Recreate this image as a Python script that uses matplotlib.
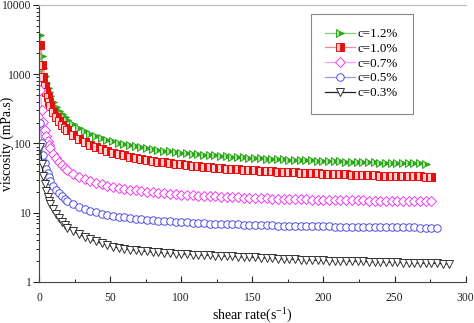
import matplotlib
matplotlib.use("Agg")
import matplotlib.pyplot as plt
from matplotlib.ticker import FixedLocator, LogLocator, NullFormatter, FixedFormatter, MultipleLocator

plt.rcParams['font.family'] = ['Liberation Serif', 'DejaVu Serif']

shear_rate = [1, 2, 3, 4, 5, 6, 7, 8, 10, 12, 14, 16, 18,
              20, 24, 28, 32, 36, 40, 44, 48, 52, 56, 60, 64, 68, 72, 76, 80,
              84, 88, 92, 96, 100, 104, 108, 112, 116, 120, 124, 128, 132, 136,
              140, 144, 148, 152, 156, 160, 164, 168, 172, 176, 180, 184, 188,
              192, 196, 200, 204, 208, 212, 216, 220, 224, 228, 232, 236, 240,
              244, 248, 252, 256, 260, 264, 268, 272, 276, 280, 284, 288]

visc_12 = [3630, 1833, 1235, 936, 756, 636, 551, 487, 397, 337, 294, 262, 237,
           217.5, 187.6, 166.2, 150.2, 137.7, 127.8, 119.6, 112.8, 107.0, 102.1,
           97.8, 94.1, 90.8, 87.9, 85.2, 82.9, 80.7, 78.8, 77.0, 75.4, 73.9, 72.5,
           71.2, 70.1, 68.9, 67.9, 67.0, 66.0, 65.2, 64.4, 63.6, 62.9, 62.3, 61.6,
           61.0, 60.4, 59.9, 59.4, 58.9, 58.4, 57.9, 57.5, 57.1, 56.7, 56.3, 56.0,
           55.6, 55.3, 54.9, 54.6, 54.3, 54.0, 53.7, 53.5, 53.2, 53.0, 52.7, 52.5,
           52.2, 52.0, 51.8, 51.6, 51.4, 51.2]

visc_10 = [2640, 1333, 897, 678, 547, 460, 398, 351, 285.5, 241.8, 210.6, 187.3,
           169.1, 154.5, 132.7, 117.1, 105.4, 96.3, 89.0, 83.0, 78.1, 73.9, 70.3,
           67.2, 64.4, 62.0, 59.9, 58.0, 56.3, 54.7, 53.3, 52.0, 50.8, 49.7, 48.7,
           47.8, 46.9, 46.1, 45.3, 44.6, 44.0, 43.3, 42.8, 42.2, 41.7, 41.2, 40.7,
           40.3, 39.9, 39.5, 39.1, 38.7, 38.4, 38.1, 37.7, 37.4, 37.1, 36.9, 36.6,
           36.3, 36.1, 35.9, 35.6, 35.4, 35.2, 35.0, 34.8, 34.6, 34.4, 34.2, 34.1,
           33.9, 33.7, 33.6, 33.4, 33.3, 33.1, 33.0]

visc_07 = [590, 301.5, 205.2, 157, 128.1, 108.8, 95.1, 84.75, 70.3, 60.7, 53.8,
           48.6, 44.6, 41.4, 36.6, 33.1, 30.6, 28.6, 26.95, 25.6, 24.5, 23.6, 22.8,
           22.1, 21.5, 21.0, 20.5, 20.1, 19.7, 19.4, 19.1, 18.8, 18.5, 18.3, 18.1,
           17.85, 17.7, 17.5, 17.3, 17.2, 17.0, 16.9, 16.75, 16.6, 16.5, 16.4, 16.3,
           16.2, 16.1, 16.0, 15.9, 15.86, 15.8, 15.7, 15.6, 15.57, 15.5, 15.45, 15.4,
           15.33, 15.28, 15.23, 15.18, 15.13, 15.08, 15.04, 14.99, 14.95, 14.91,
           14.87, 14.83, 14.79, 14.76, 14.72, 14.69, 14.66, 14.63, 14.59]

visc_05 = [195.4, 100.4, 68.7, 52.9, 43.4, 37.1, 32.5, 29.15, 24.4, 21.2, 19.0,
           17.3, 16.0, 14.9, 13.3, 12.2, 11.3, 10.7, 10.15, 9.7, 9.36, 9.05, 8.79,
           8.57, 8.37, 8.19, 8.04, 7.9, 7.78, 7.66, 7.56, 7.47, 7.38, 7.3, 7.23,
           7.16, 7.10, 7.04, 6.98, 6.93, 6.88, 6.84, 6.80, 6.76, 6.72, 6.68, 6.65,
           6.62, 6.59, 6.56, 6.53, 6.50, 6.48, 6.46, 6.43, 6.41, 6.39, 6.37, 6.35,
           6.33, 6.31, 6.30, 6.28, 6.26, 6.25, 6.23, 6.22, 6.21, 6.19, 6.18, 6.17,
           6.15, 6.14, 6.13, 6.12, 6.11, 6.10, 6.09, 6.08]

visc_03 = [90, 50, 34, 26, 20.5, 16.8, 14.8, 13.4, 11.3, 9.6, 8.3, 7.4, 6.7,
           6.1, 5.4, 4.9, 4.5, 4.15, 3.85, 3.6, 3.4, 3.25, 3.12, 3.02, 2.94, 2.87,
           2.81, 2.76, 2.71, 2.67, 2.63, 2.60, 2.57, 2.54, 2.51, 2.49, 2.46, 2.44,
           2.42, 2.40, 2.38, 2.36, 2.34, 2.32, 2.30, 2.28, 2.26, 2.24, 2.22, 2.20,
           2.18, 2.16, 2.14, 2.12, 2.10, 2.09, 2.07, 2.06, 2.05, 2.04, 2.03, 2.02,
           2.01, 2.00, 1.99, 1.98, 1.97, 1.96, 1.95, 1.94, 1.93, 1.92, 1.91, 1.90,
           1.89, 1.88, 1.87, 1.86, 1.85, 1.84, 1.83]

labels = ["c=1.2%", "c=1.0%", "c=0.7%", "c=0.5%", "c=0.3%"]
x_ticks = [0, 50, 100, 150, 200, 250, 300]
y_ticks = [1, 10, 100, 1000, 10000]
y_tick_labels = ["1", "10", "100", "1000", "10000"]

series = [visc_12, visc_10, visc_07, visc_05, visc_03]
styles = [
    dict(marker='>', color='#7fd36f', mec='#2fa51e', mfc='#2fa51e', mfcalt='#a6e39a', fill='right'),
    dict(marker='s', color='#f08a8a', mec='#e31010', mfc='#e31010', mfcalt='#ffd0d0', fill='right'),
    dict(marker='D', color='#f5a3f5', mec='#f03cf0', mfc='white', mfcalt='white', fill='full'),
    dict(marker='o', color='#9a9af0', mec='#5050e0', mfc='white', mfcalt='white', fill='full'),
    dict(marker='v', color='#222222', mec='#333333', mfc='white', mfcalt='white', fill='full'),
]

fig = plt.figure(figsize=(4.74, 3.23), dpi=100)
ax = fig.add_axes([0.0823, 0.127, 0.9, 0.858])

for vals, lab, st in zip(series, labels, styles):
    ax.plot(shear_rate[:len(vals)], vals, color=st['color'], lw=0.9,
            marker=st['marker'], markersize=5.4, mec=st['mec'], mfc=st['mfc'],
            markerfacecoloralt=st['mfcalt'], fillstyle=st['fill'], mew=0.7,
            label=lab)

ax.set_yscale('log')
ax.set_xlim(0, 300)
ax.set_ylim(1, 10000)
ax.xaxis.set_major_locator(FixedLocator(x_ticks))
ax.xaxis.set_minor_locator(MultipleLocator(25))
ax.yaxis.set_major_locator(FixedLocator(y_ticks))
ax.yaxis.set_major_formatter(FixedFormatter(y_tick_labels))
ax.yaxis.set_minor_locator(LogLocator(base=10, subs=[2, 3, 4, 5, 6, 7, 8, 9]))
ax.yaxis.set_minor_formatter(NullFormatter())

ax.tick_params(axis='both', labelsize=8.4, colors='#222222')
ax.tick_params(axis='x', which='major', direction='in', length=4, width=0.8, pad=7)
ax.tick_params(axis='x', which='minor', direction='in', length=2, width=0.6)
ax.tick_params(axis='y', which='major', direction='out', length=4, width=0.8, pad=1.5)
ax.tick_params(axis='y', which='minor', direction='out', length=2, width=0.6)

ax.spines['right'].set_visible(False)
ax.spines['top'].set_color('#bbbbbb')
ax.spines['left'].set_color('#444444')
ax.spines['bottom'].set_color('#444444')

ax.set_xlabel('shear rate(s$^{\\mathregular{-1}}$)', fontsize=10)
ax.set_ylabel('viscosity (mPa.s)', fontsize=9.8)
ax.xaxis.set_label_coords(0.5, -0.085)
ax.yaxis.set_label_coords(-0.075, 0.5)
ax.xaxis.label.set_va('top')
ax.yaxis.label.set_va('center')

leg = ax.legend(loc='upper right', bbox_to_anchor=(0.876, 0.968), fontsize=9.4,
                handlelength=2.3, frameon=True, fancybox=False, framealpha=1,
                edgecolor='#888888', borderpad=1.1, labelspacing=0.2,
                handletextpad=0.2, borderaxespad=0)
leg.get_frame().set_linewidth(0.8)

fig.savefig('out.png', dpi=100)
